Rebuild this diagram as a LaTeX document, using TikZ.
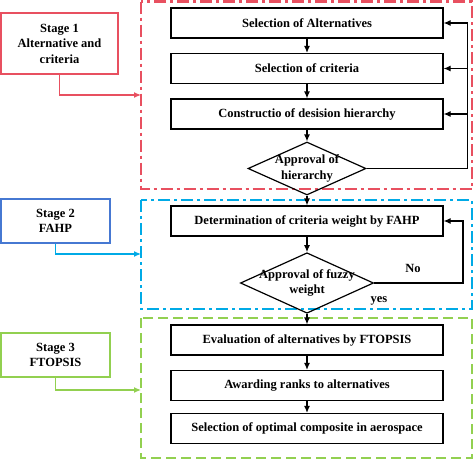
\documentclass[tikz,border=0pt]{standalone}
\usepackage{fontspec}
\setmainfont{Liberation Serif}
\usepackage{xcolor}
\usepackage{tikz}
\usetikzlibrary{calc, shapes.geometric, arrows.meta}
\definecolor{stred}{RGB}{232,80,96}
\definecolor{stblue}{RGB}{0,170,230}
\definecolor{stdblue}{RGB}{70,120,210}
\definecolor{stgreen}{RGB}{146,208,80}

\begin{document}
\begin{tikzpicture}[x=1pt, y=-1pt, font=\bfseries\fontsize{12.5}{15.5}\selectfont,
box/.style={draw, line width=1.2pt, minimum width=272pt, minimum height=30pt, inner sep=0pt},
dec/.style={draw, shape=diamond, line width=1.2pt, align=center, inner sep=0pt, inner xsep=-11pt, shape aspect=2.2},
stagebox/.style={draw=#1, line width=1.2pt, align=center, inner sep=0pt, text=black},
flow/.style={line width=1.2pt, -{Latex[length=7pt, width=6pt]}}]
\useasboundingbox (0,0) rectangle (474,461);
% stage frames
\draw[stred, line width=2.2pt, dash pattern=on 12pt off 4pt on 3pt off 4pt] (141,1.5) rectangle (472,189);
\draw[stblue, line width=2.2pt, dash pattern=on 12pt off 4pt on 3pt off 4pt] (141,200) rectangle (472,309);
\draw[stgreen, line width=2.2pt, dash pattern=on 10pt off 5pt] (141,318) rectangle (472,458);
% process steps
\foreach \n/\y/\txt in {b1/23/Selection of Alternatives, b2/68.5/Selection of criteria, b3/114/Constructio of desision hierarchy, b4/221/Determination of criteria weight by FAHP, b5/340/Evaluation of alternatives by FTOPSIS, b6/385.5/Awarding ranks to alternatives, b7/428.5/Selection of optimal composite in aerospace}{
\node[box] (\n) at (307,\y) {\txt};
}
\node[dec, minimum width=118pt, minimum height=53pt] (d1) at (307,168.5) {Approval of\\hierarchy};
\node[dec, minimum width=133pt, minimum height=60pt] (d2) at (307,283) {Approval of fuzzy\\weight};
% stages
\node[stagebox=stred, minimum width=117pt, minimum height=61pt] (s1) at (59.5,43.5) {Stage 1\\Alternative and\\criteria};
\node[stagebox=stdblue, minimum width=109pt, minimum height=44pt] (s2) at (55.5,221) {Stage 2\\FAHP};
\node[stagebox=stgreen, minimum width=109pt, minimum height=44pt] (s3) at (55.5,355) {Stage 3\\FTOPSIS};
\coordinate (f1) at (141,95);
\coordinate (f2) at (141,254);
\coordinate (f3) at (141,390);
\draw[stred, flow] (s1.south) |- (f1);
\draw[stblue, flow] (s2.south) |- (f2);
\draw[stgreen, flow] (s3.south) |- (f3);
% flow
\foreach \a/\b in {b1/b2, b2/b3, b3/d1, d1/b4, b4/d2, d2/b5, b5/b6, b6/b7}{
\draw[flow] (\a) -- (\b);
}
\coordinate (r1) at (467.5,0);
\coordinate (r2) at (463,0);
\draw[flow] (d1.east) -- (d1.east -| r1) -- (b1.east -| r1) -- (b1.east);
\foreach \b in {b2, b3}{
\draw[flow] (\b.east -| r1) -- (\b.east);
}
\draw[flow] (d2.east) -- (d2.east -| r2) -- (b4.east -| r2) -- (b4.east);
\node (no) at (413,268) {No};
\node (yes) at (379,301) {yes};
\end{tikzpicture}
\end{document}
